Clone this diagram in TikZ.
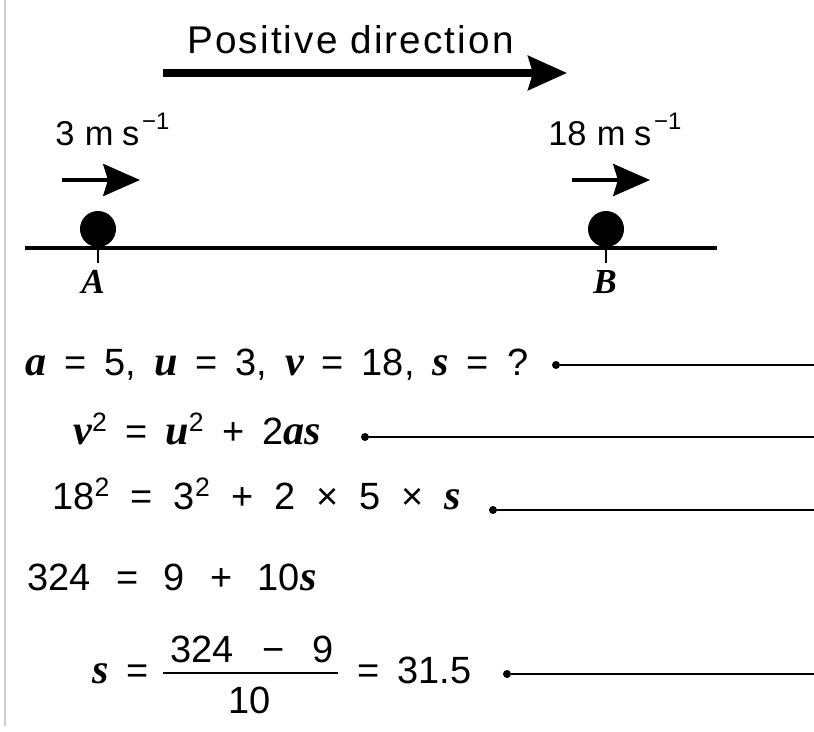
\documentclass[tikz,border=0pt]{standalone}
\usepackage{fontspec}
\setmainfont{Liberation Sans}[WordSpace=1.7]
\newfontfamily\labelfont{Liberation Sans}
\newfontfamily\varfont{Liberation Serif}
\usetikzlibrary{arrows.meta,positioning,calc}

\newcommand{\vr}[1]{{\fontsize{30}{32}\selectfont\varfont\bfseries\itshape #1}}
\newcommand{\msunit}{m\hspace{0.25em}s\hspace{0.08em}\raisebox{0.46em}{\fontsize{17}{17}\selectfont −1}}

\begin{document}
\begin{tikzpicture}[x=0.025cm,y=-0.025cm,>={Stealth[inset=0.12cm]},
    eq node/.style={anchor=base west,inner sep=0,font=\fontsize{27}{32}\selectfont},
    wide/.style={execute at begin node={\spaceskip=#1\relax}},
    speed node/.style={anchor=base west,inner sep=0,font=\fontsize{24.5}{26}\selectfont\labelfont},
    point node/.style={anchor=base,inner sep=0,font=\fontsize{25}{28}\selectfont\varfont\bfseries\itshape},
    ball/.style={circle,fill,inner sep=0,minimum size=0.9cm},
    dot/.style={circle,fill,inner sep=0,minimum size=0.2cm},
    move/.style={->,line width=2.8pt,>={Stealth[length=0.92cm,width=0.8cm,inset=0.12cm]}},
    guide/.style={line width=1.8pt}]

    \useasboundingbox (0,0) rectangle (814,731);
    \draw[black!20,line width=0.8pt] (5,0) -- (5,726);

    % direction arrow
    \node (dir) [anchor=base west,inner sep=0,font=\fontsize{27.5}{32}\selectfont\labelfont\addfontfeature{LetterSpace=5.5}] at (187,53){Positive direction};
    \coordinate (d1) at (163,73);
    \coordinate (d2) at (567,73);
    \draw[->,line width=5pt,>={Stealth[length=0.97cm,width=0.85cm,inset=0.12cm]}] (d1) -- (d2);

    % track with the two particles
    \coordinate (t1) at (25,248);
    \coordinate (t2) at (717,248);
    \draw[line width=2.8pt] (t1) -- (t2);

    \node (A) [ball] at (98,229){};
    \node (B) [ball] at (606,229){};
    \draw[line width=1pt] (98,248) -- (98,263);
    \draw[line width=1pt] (606,248) -- (606,263);
    \node (lA) [point node] at (93,293){A};
    \node (lB) [point node] at (605,293){B};

    \node (vA) [speed node] at (55,145){3\hspace{0.3em}\msunit};
    \node (vB) [speed node] at (548,145){18\hspace{0.3em}\msunit};
    \coordinate (a1) at (62,180);
    \coordinate (a2) at (140,180);
    \coordinate (b1) at (572,180);
    \coordinate (b2) at (650,180);
    \draw[move] (a1) -- (a2);
    \draw[move] (b1) -- (b2);

    % working
    \node (1) [eq node] at (25,375){\vr{a} = 5, \vr{u} = 3, \vr{v} = 18, \vr{s} = ?};
    \node (2) [eq node] at (73,444){\vr{v}\textsuperscript{2} = \vr{u}\textsuperscript{2} + 2\vr{as}};
    \node (3) [eq node,wide=0.55em] at (52,509){18\textsuperscript{2} = 3\textsuperscript{2} + 2 × 5 × \vr{s}};
    \node (4) [eq node,wide=0.67em] at (27,590){324 = 9 + 10\vr{s}};
    \node (5) [eq node] at (92,683){\vr{s} =};
    \node (6) [eq node,anchor=base] at (252,662){324\hspace{0.75em}−\hspace{0.75em}9};
    \node (7) [eq node,anchor=base] at (250,713){10};
    \node (8) [eq node] at (357,683){= 31.5};
    \coordinate (f1) at (163,673);
    \coordinate (f2) at (338,673);
    \draw[line width=1.1pt] (f1) -- (f2);

    \node (9) [dot] at (556,365){};
    \node (10) [dot] at (365,437){};
    \node (11) [dot] at (493,510){};
    \node (12) [dot] at (507,674){};
    \coordinate (13) at (814,365);
    \coordinate (14) at (814,437);
    \coordinate (15) at (814,510);
    \coordinate (16) at (814,674);

    \path[guide]
        (9) edge (13)
        (10) edge (14)
        (11) edge (15)
        (12) edge (16)
    ;
\end{tikzpicture}
\end{document}
